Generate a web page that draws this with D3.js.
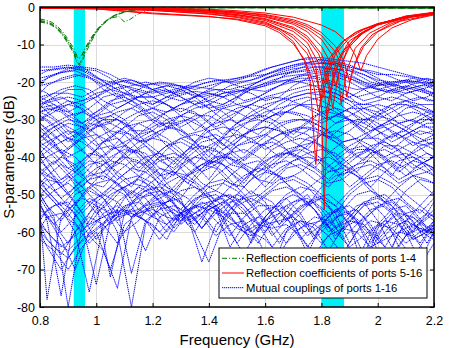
<!DOCTYPE html>
<html>
<head>
<meta charset="utf-8">
<script src="https://cdn.jsdelivr.net/npm/d3@7"></script>
<style>
  body { margin: 0; background: #fff; }
  svg { display: block; font-family: "Liberation Sans", Arial, sans-serif; }
  .grid line { stroke: #dcdcdc; stroke-width: 1; shape-rendering: crispEdges; }
  .axis path { display: none; }
  .axis line { stroke: #000; stroke-width: 1; }
  .axis text { font-size: 12.5px; fill: #000; }
  .coupling { fill: none; stroke: #0000ff; stroke-width: 1; stroke-dasharray: 1.3 0.7; }
  .refl-low { fill: none; stroke: #007a00; stroke-width: 1; stroke-dasharray: 5 2 1 2; }
  .refl-high { fill: none; stroke: #ff0000; stroke-width: 1; }
</style>
</head>
<body>
<svg id="sparam-plot" width="474" height="348"></svg>
<script>

// frequency grids (GHz) for the mutual coupling traces
const freqA = [0.80,0.85,0.90,0.95,1.00,1.05,1.10,1.15,1.20,1.25,1.30,1.35,1.40,1.45,1.50,
               1.55,1.60,1.65,1.70,1.75,1.80,1.85,1.90,1.95,2.00,2.05,2.10,2.15,2.20];
const freqB = [0.80,0.825,0.875,0.925,0.975,1.025,1.075,1.125,1.175,1.225,1.275,1.325,1.375,1.425,1.475,
               1.525,1.575,1.625,1.675,1.725,1.775,1.825,1.875,1.925,1.975,2.025,2.075,2.125,2.175,2.20];

// operating bands (GHz)
const bands = [[0.92, 0.96], [1.80, 1.88]];

// reflection coefficients of ports 1-4 (dB)
const lowFreq = [0.80,0.82,0.84,0.86,0.88,0.90,0.92,0.93,0.94,0.95,0.96,0.98,1.00,1.02,1.04,1.06,1.08,1.10,1.12,1.15,1.20,1.40,1.60,1.80,2.00,2.20];
const reflLow = [
  [-3.6,-3.9,-4.4,-5.4,-7.0,-9.2,-12.0,-14.2,-15.6,-14.5,-12.6,-9.5,-6.8,-4.9,-3.6,-2.6,-1.9,-1.4,-1.0,-0.7,-0.4,-0.2,-0.2,-0.3,-0.3,-0.4],
  [-3.2,-3.5,-4.0,-5.0,-6.6,-8.6,-11.2,-12.8,-13.4,-12.6,-11.0,-8.4,-6.2,-4.6,-3.5,-2.8,-2.5,-4.0,-3.3,-1.8,-0.5,-0.2,-0.2,-0.2,-0.3,-0.3],
  [-3.8,-4.1,-4.6,-5.6,-7.2,-9.4,-11.8,-13.2,-13.8,-12.8,-11.2,-8.8,-6.4,-4.6,-3.3,-2.4,-1.8,-1.3,-1.0,-0.7,-0.4,-0.2,-0.2,-0.2,-0.2,-0.3],
  [-4.0,-4.3,-4.8,-5.8,-7.5,-9.8,-12.4,-14.6,-15.2,-13.8,-11.8,-9.0,-6.6,-4.8,-3.4,-2.4,-1.7,-1.2,-0.9,-0.6,-0.3,-0.2,-0.2,-0.2,-0.3,-0.3]
];

// reflection coefficients of ports 5-16, [GHz, dB]
const reflHigh = [
  [[0.8,-0.3],[1.0,-0.5],[1.2,-1.8],[1.4,-2.6],[1.5,-3.2],[1.6,-4.6],[1.65,-6.2],[1.7,-9.2],[1.74,-14.5],[1.76,-20],[1.78,-42],[1.80,-21],[1.83,-13.5],[1.87,-9.5],[1.92,-6.8],[2.0,-4.6],[2.1,-2.9],[2.2,-1.9]],
  [[0.8,-0.2],[1.0,-0.4],[1.2,-0.9],[1.4,-1.8],[1.5,-2.6],[1.6,-4.0],[1.7,-7.5],[1.75,-11],[1.78,-16],[1.80,-26],[1.81,-54],[1.82,-27],[1.85,-15],[1.9,-9],[1.95,-6.5],[2.0,-4.8],[2.1,-2.8],[2.2,-1.8]],
  [[0.8,-0.3],[1.0,-0.5],[1.2,-1.6],[1.4,-2.5],[1.5,-3.4],[1.6,-5.0],[1.65,-6.8],[1.7,-9.8],[1.74,-14],[1.77,-20],[1.79,-28],[1.81,-20],[1.84,-13],[1.88,-9],[1.93,-6.4],[2.0,-4.4],[2.1,-2.8],[2.2,-1.8]],
  [[0.8,-0.2],[1.0,-0.4],[1.2,-0.9],[1.4,-1.9],[1.5,-2.8],[1.6,-4.3],[1.65,-5.8],[1.7,-8.2],[1.75,-12.5],[1.78,-18],[1.80,-25],[1.82,-19],[1.85,-12.5],[1.9,-8.2],[1.95,-6],[2.0,-4.5],[2.1,-2.6],[2.2,-1.7]],
  [[0.8,-0.2],[1.0,-0.3],[1.2,-0.7],[1.4,-1.5],[1.5,-2.3],[1.6,-3.6],[1.7,-6.5],[1.75,-9.5],[1.79,-15],[1.81,-22],[1.82,-30],[1.84,-20],[1.87,-13],[1.92,-8.2],[2.0,-4.8],[2.1,-2.7],[2.2,-1.7]],
  [[0.8,-0.1],[1.0,-0.3],[1.2,-0.7],[1.4,-1.4],[1.5,-2.1],[1.6,-3.3],[1.7,-5.8],[1.75,-8.5],[1.79,-12.5],[1.81,-16.5],[1.83,-23],[1.85,-17],[1.88,-11.5],[1.93,-7.5],[2.0,-4.6],[2.1,-2.5],[2.2,-1.5]],
  [[0.8,-0.2],[1.0,-0.3],[1.2,-0.6],[1.4,-1.3],[1.5,-2.0],[1.6,-3.1],[1.7,-5.4],[1.75,-7.8],[1.8,-12.5],[1.82,-16.5],[1.84,-27],[1.86,-18],[1.89,-11.5],[1.94,-7.2],[2.0,-4.6],[2.1,-2.5],[2.2,-1.5]],
  [[0.8,-0.1],[1.0,-0.2],[1.2,-0.5],[1.4,-1.1],[1.5,-1.7],[1.6,-2.7],[1.7,-4.6],[1.75,-6.6],[1.8,-10.5],[1.83,-14.5],[1.85,-21],[1.87,-15.5],[1.9,-10.5],[1.95,-6.8],[2.0,-4.6],[2.1,-2.4],[2.2,-1.4]],
  [[0.8,-0.1],[1.0,-0.2],[1.2,-0.5],[1.4,-1.0],[1.5,-1.6],[1.6,-2.5],[1.7,-4.2],[1.75,-5.8],[1.8,-8.6],[1.84,-13],[1.86,-18],[1.87,-26],[1.89,-17],[1.92,-11],[1.97,-7],[2.05,-4.0],[2.12,-2.5],[2.2,-1.5]],
  [[0.8,-0.1],[1.0,-0.2],[1.2,-0.4],[1.4,-0.9],[1.5,-1.4],[1.6,-2.2],[1.7,-3.8],[1.75,-5.2],[1.8,-7.6],[1.85,-12],[1.88,-17.5],[1.89,-24],[1.91,-17],[1.94,-11],[1.98,-7.4],[2.05,-4.4],[2.12,-2.7],[2.2,-1.6]],
  [[0.8,-0.1],[1.0,-0.2],[1.2,-0.4],[1.4,-0.8],[1.5,-1.3],[1.6,-2.0],[1.7,-3.4],[1.75,-4.7],[1.8,-6.8],[1.85,-10.5],[1.88,-14.5],[1.90,-20],[1.92,-15],[1.95,-10.5],[2.0,-6.6],[2.08,-3.8],[2.2,-1.9]],
  [[0.8,-0.1],[1.0,-0.1],[1.2,-0.3],[1.4,-0.6],[1.5,-1.0],[1.6,-1.6],[1.7,-2.7],[1.8,-4.8],[1.85,-6.6],[1.89,-9.2],[1.92,-12.8],[1.94,-17],[1.96,-13],[2.0,-8.6],[2.05,-5.6],[2.12,-3.4],[2.2,-2.1]]
];

// mutual couplings sampled on freqA (dB)
const couplingA = [
  [-16,-16,-15.5,-16,-18.5,-21,-23,-24,-24,-23,-22,-21,-20,-19.5,-19,-18,-16.5,-15.5,-14.5,-13.5,-13.5,-14,-14.5,-15,-16,-17,-18,-19,-20],
  [-17,-16.5,-16,-17,-19,-20,-19,-20,-22,-24,-25,-24,-22,-20,-19,-18.5,-18,-17,-16,-15,-14,-14.5,-15.5,-17,-19,-21,-22,-21,-20],
  [-19,-18,-17,-16.5,-17,-19,-22,-25,-26,-24,-22,-20,-19,-19.5,-21,-22,-21,-19,-17,-15.5,-15,-15,-16,-17,-18,-18,-18.5,-19,-19.5],
  [-20,-18,-16.5,-16,-16.5,-18,-20,-21,-20.5,-20.5,-21,-23,-25,-26,-24,-21,-19,-17.5,-16.5,-16,-16,-17,-19,-21,-22,-21,-20,-20,-21],
  [-24,-23,-23,-24,-22,-20,-21,-23,-26,-24,-23,-22.5,-23,-24,-23,-21,-19,-18,-17.5,-17,-16.5,-16.5,-17,-18,-19.5,-20,-19.5,-20,-22],
  [-26,-25,-24,-25,-24,-21,-19.5,-21,-22,-21,-22,-24,-27,-26,-24,-22,-21,-20,-19,-18,-17.5,-18,-19,-20.5,-22,-23,-22,-21,-21],
  [-25,-27,-28,-26,-24,-22,-21,-22,-23,-22,-24,-26,-25,-23,-22,-23,-25,-24,-21,-19,-18,-18.5,-20,-22,-24,-25,-23,-22,-23],
  [-28,-27,-26,-25,-23,-22,-23,-25,-27,-28,-26,-24,-23,-24,-26,-25,-23,-21,-20,-19.5,-20,-21,-23,-25,-24,-22,-21,-22,-24],
  [-21,-20,-19,-18,-19.5,-22,-25,-24,-22,-21,-21,-22,-21,-20,-20,-19.5,-18,-16.5,-15.5,-15,-15,-15.5,-16.5,-18,-20,-22,-23,-22,-21],
  [-26,-24,-22,-22,-25,-28,-26,-24,-24,-26,-28,-26,-24,-23,-22.5,-22,-22.5,-21,-19,-17.5,-17,-17.5,-18.5,-20,-21,-20,-20,-21.5,-23],
  [-24,-26,-29,-31,-28,-25,-24,-26,-29,-32,-29,-27,-26,-28,-31,-29,-27,-25,-23,-22,-22,-23,-25,-28,-30,-28,-26,-27,-29],
  [-30,-27,-25,-26,-29,-31,-28,-26,-25,-26,-29,-33,-30,-27,-26,-27,-30,-28,-25,-24,-25,-27,-30,-33,-29,-26,-25,-26,-28],
  [-27,-26,-28,-31,-29,-26,-25,-27,-30,-28,-26,-25,-27,-30,-28,-26,-24,-23,-22,-21,-21,-22,-24,-27,-29,-27,-25,-24,-25],
  [-30,-28,-26,-27,-30,-33,-30,-28,-27,-29,-32,-30,-28,-27,-28,-30,-29,-26,-24,-23,-22.5,-23,-25,-26,-25,-24,-25,-27,-28],
  [-33,-31,-29,-28,-30,-35,-32,-29,-28,-30,-34,-36,-32,-29,-27,-26,-27,-29,-27,-25,-24,-24,-26,-29,-32,-30,-27,-26,-26],
  [-28,-30,-34,-32,-29,-28,-30,-35,-33,-30,-29,-30,-33,-37,-33,-30,-28,-27,-26,-26.5,-28,-31,-29,-27,-26,-27,-30,-31,-29],
  [-35,-32,-30,-31,-34,-38,-34,-31,-30,-32,-31,-29,-29,-31,-35,-33,-30,-28,-28,-29,-31,-29,-27,-27,-28,-31,-33,-30,-28],
  [-31,-34,-38,-35,-32,-31,-33,-36,-34,-32,-33,-36,-40,-35,-31,-29,-29,-31,-34,-31,-28,-27,-28,-30,-33,-35,-32,-30,-30],
  [-37,-35,-33,-34,-37,-35,-32,-31,-33,-37,-40,-36,-33,-32,-33,-36,-34,-31,-30,-30,-32,-35,-33,-30,-29,-30,-32,-34,-33],
  [-34,-37,-40,-38,-35,-33,-34,-38,-42,-38,-35,-34,-35,-38,-36,-33,-32,-33,-36,-38,-34,-31,-30,-31,-33,-36,-34,-32,-32],
  [-40,-37,-35,-36,-39,-43,-39,-36,-35,-36,-39,-42,-38,-35,-34,-35,-38,-36,-33,-32,-33,-36,-39,-35,-32,-31,-33,-36,-35],
  [-36,-39,-43,-41,-38,-37,-39,-43,-40,-37,-36,-38,-42,-40,-37,-36,-37,-40,-38,-35,-34,-35,-38,-41,-37,-34,-33,-35,-37],
  [-29,-32,-36,-33,-30,-29,-31,-34,-31,-28,-27,-28,-31,-34,-31,-28,-26,-25,-24,-23,-23.5,-25,-28,-31,-28,-26,-26,-28,-31],
  [-39,-42,-38,-35,-34,-36,-40,-44,-40,-37,-35,-37,-41,-38,-35,-33,-32,-33,-35,-33,-30,-29,-30,-33,-36,-38,-35,-33,-34],
  [-43,-46,-50,-46,-43,-41,-42,-45,-49,-45,-42,-40,-41,-44,-48,-44,-41,-39,-39,-41,-44,-41,-38,-37,-39,-42,-45,-42,-40],
  [-33,-36,-41,-45,-41,-38,-37,-39,-43,-46,-43,-40,-38,-39,-42,-39,-36,-34,-33,-34,-37,-40,-37,-35,-35,-37,-40,-38,-36],
  [-50,-47,-45,-48,-52,-49,-46,-45,-47,-51,-54,-50,-47,-46,-48,-52,-49,-46,-45,-47,-50,-53,-49,-46,-45,-47,-50,-53,-49],
  [-37,-40,-44,-48,-44,-40,-38,-39,-42,-47,-51,-46,-42,-40,-41,-44,-48,-44,-41,-39,-38,-39,-42,-46,-43,-40,-39,-41,-45],
  [-48,-52,-56,-50,-47,-46,-49,-54,-51,-47,-45,-47,-51,-55,-50,-46,-44,-45,-49,-53,-48,-45,-44,-46,-50,-54,-49,-46,-47],
  [-52,-49,-47,-50,-55,-52,-48,-46,-48,-53,-57,-52,-48,-47,-49,-53,-50,-47,-46,-48,-52,-55,-50,-47,-46,-48,-52,-55,-51],
  [-36,-33,-31,-32,-36,-41,-37,-34,-33,-35,-38,-42,-46,-41,-37,-35,-34,-36,-40,-37,-34,-33,-34,-37,-41,-45,-40,-37,-36],
  [-44,-41,-45,-50,-46,-42,-40,-41,-45,-50,-46,-43,-41,-42,-46,-50,-46,-43,-41,-40,-41,-44,-48,-45,-42,-41,-43,-47,-50],
  [-47,-51,-55,-60,-54,-50,-48,-51,-56,-52,-49,-48,-51,-56,-52,-49,-52,-58,-53,-50,-55,-62,-56,-52,-57,-64,-57,-53,-56],
  [-53,-58,-54,-51,-53,-58,-54,-51,-50,-53,-58,-55,-52,-51,-55,-63,-56,-52,-57,-66,-58,-54,-58,-70,-59,-55,-60,-68,-60],
  [-50,-56,-80,-58,-52,-72,-55,-50,-48,-50,-55,-58,-54,-52,-50,-52,-57,-63,-57,-53,-51,-53,-58,-66,-58,-54,-53,-57,-60],
  [-46,-49,-53,-58,-74,-57,-51,-48,-50,-54,-56,-60,-68,-58,-53,-51,-53,-58,-55,-52,-51,-55,-63,-57,-53,-52,-55,-60,-58],
  [-44,-46,-50,-55,-51,-48,-50,-56,-58,-62,-55,-51,-50,-53,-58,-62,-56,-52,-50,-52,-56,-61,-57,-53,-52,-55,-61,-58,-55],
  [-58,-62,-65,-61,-57,-55,-54,-56,-53,-52,-51,-60,-54,-52,-55,-60,-57,-55,-58,-64,-59,-56,-55,-58,-63,-59,-57,-59,-61],
  [-60,-64,-67,-62,-59,-56,-55,-54,-56,-58,-55,-53,-54,-56,-59,-61,-58,-57,-56,-59,-63,-59,-57,-58,-62,-66,-61,-59,-60],
  [-62,-65,-70,-64,-60,-70,-58,-55,-54,-56,-57,-55,-53,-55,-58,-60,-62,-66,-60,-58,-57,-60,-64,-61,-58,-59,-63,-60,-59],
  [-54,-58,-63,-57,-53,-55,-60,-57,-52,-50,-52,-57,-53,-50,-51,-55,-60,-56,-52,-51,-54,-59,-56,-52,-51,-53,-58,-63,-58],
  [-56,-53,-52,-56,-62,-57,-53,-52,-55,-60,-56,-53,-52,-56,-63,-58,-54,-53,-56,-61,-58,-54,-53,-56,-62,-58,-55,-54,-57]
];

// mutual couplings sampled on freqB (dB)
const couplingB = [
  [-18,-17,-16.5,-16,-17.5,-20,-22,-21,-20,-21,-23,-22,-20.5,-19.5,-20,-19,-17.5,-16,-15,-14,-13.8,-14.5,-15.5,-16.5,-17,-18,-19.5,-20,-19,-19.5],
  [-21,-19,-17.5,-17,-18.5,-22,-24,-23,-21,-20,-20.5,-22,-24,-23,-21,-20,-19,-17.5,-16,-15,-14.5,-15,-16,-18,-20,-21,-20,-19,-20,-21],
  [-23,-21,-19,-18,-19,-21,-20,-19.5,-21,-23,-22,-21,-21.5,-22,-22,-21,-20,-18.5,-17.5,-17,-16,-16,-17,-19,-21,-22.5,-22,-20.5,-20,-20.5],
  [-25,-24,-22,-21,-22,-25,-27,-25,-23,-22,-23,-25,-27,-25,-23,-22,-21,-19.5,-18.5,-18,-18.5,-19.5,-21,-22,-21.5,-20.5,-21,-22,-23,-23],
  [-27,-25,-24,-26,-29,-27,-24,-22,-23,-25,-27,-25,-23,-22,-23,-25,-24,-22,-20,-19,-19,-20,-22,-24,-23,-22,-23,-25,-24,-23],
  [-22,-23,-26,-29,-27,-24,-23,-25,-28,-26,-24,-23,-24,-27,-26,-23,-21,-20,-19.5,-20,-21,-23,-25,-23,-21,-20,-21,-23,-25,-25],
  [-28,-27,-28,-31,-33,-30,-28,-27,-29,-32,-30,-28,-29,-32,-30,-27,-25,-24,-24.5,-26,-28,-30,-28,-26,-26,-28,-31,-30,-28,-28],
  [-34,-36,-39,-36,-33,-31,-30,-32,-36,-34,-31,-30,-32,-35,-38,-34,-31,-29,-28,-29,-32,-35,-32,-30,-30,-32,-35,-33,-31,-31],
  [-42,-40,-38,-40,-44,-46,-41,-38,-39,-43,-45,-40,-37,-38,-42,-40,-37,-36,-38,-41,-43,-39,-36,-35,-37,-40,-38,-36,-37,-38],
  [-38,-41,-46,-43,-39,-40,-45,-48,-43,-40,-39,-41,-44,-42,-39,-38,-40,-43,-40,-37,-36,-38,-42,-44,-40,-37,-37,-39,-41,-40],
  [-45,-43,-40,-42,-47,-48,-44,-41,-42,-46,-50,-45,-42,-41,-43,-46,-43,-40,-39,-40,-43,-46,-42,-39,-38,-40,-43,-41,-42,-44],
  [-32,-34,-39,-44,-40,-36,-35,-38,-42,-45,-41,-38,-37,-40,-44,-47,-42,-38,-36,-35,-36,-39,-43,-40,-37,-36,-38,-42,-44,-43],
  [-41,-43,-48,-45,-42,-41,-44,-47,-44,-41,-40,-43,-47,-49,-45,-42,-41,-44,-46,-44,-41,-40,-42,-45,-48,-44,-41,-40,-42,-43],
  [-29,-30,-33,-37,-40,-36,-33,-34,-37,-41,-43,-39,-36,-35,-38,-41,-38,-35,-33,-32,-33,-35,-37,-40,-38,-35,-34,-36,-39,-40],
  [-47,-45,-42,-44,-47,-50,-46,-43,-44,-47,-49,-45,-42,-43,-47,-48,-44,-42,-41,-43,-46,-48,-44,-42,-41,-43,-46,-44,-42,-43],
  [-39,-37,-34,-36,-40,-44,-42,-39,-37,-40,-44,-47,-43,-40,-39,-42,-44,-41,-38,-37,-39,-42,-45,-42,-39,-38,-40,-43,-41,-40],
  [-44,-46,-51,-48,-45,-44,-47,-50,-46,-43,-44,-47,-49,-45,-42,-43,-46,-47,-43,-42,-44,-47,-46,-43,-42,-44,-47,-45,-44,-45],
  [-26,-28,-31,-35,-32,-30,-30,-33,-33,-31,-31,-34,-33,-31,-30,-32,-34,-31,-28,-26,-26,-27,-29,-31,-33,-31,-29,-28,-29,-30],
  [-35,-33,-31,-33,-37,-40,-37,-35,-36,-39,-42,-38,-35,-34,-36,-39,-36,-33,-31,-30,-31,-33,-36,-35,-33,-32,-34,-37,-35,-34],
  [-46,-49,-53,-49,-46,-45,-47,-51,-48,-45,-44,-45,-48,-52,-48,-45,-43,-44,-47,-50,-47,-44,-43,-45,-49,-52,-48,-45,-46,-47],
  [-31,-33,-36,-34,-31,-32,-35,-39,-36,-33,-32,-34,-38,-36,-33,-31,-30,-31,-34,-32,-29,-28,-29,-32,-35,-33,-31,-30,-32,-33],
  [-40,-43,-47,-44,-41,-42,-46,-43,-40,-39,-41,-45,-43,-40,-40,-43,-46,-42,-39,-38,-40,-44,-41,-38,-38,-41,-44,-41,-39,-40],
  [-50,-53,-57,-52,-49,-51,-55,-52,-49,-48,-50,-54,-59,-54,-51,-54,-60,-55,-51,-55,-61,-56,-53,-57,-65,-58,-54,-57,-63,-60],
  [-59,-56,-55,-58,-63,-59,-56,-55,-57,-60,-56,-54,-56,-61,-58,-57,-62,-70,-60,-57,-59,-65,-59,-57,-61,-69,-60,-58,-61,-62],
  [-55,-78,-56,-50,-48,-51,-57,-54,-50,-49,-52,-58,-55,-51,-50,-53,-58,-54,-50,-48,-49,-53,-60,-55,-51,-50,-53,-59,-56,-54],
  [-52,-57,-77,-55,-51,-53,-60,-80,-58,-53,-51,-54,-59,-55,-52,-51,-55,-61,-57,-53,-52,-55,-62,-58,-54,-53,-56,-62,-60,-57],
  [-48,-50,-54,-60,-76,-58,-52,-49,-51,-56,-60,-55,-51,-50,-53,-58,-63,-57,-53,-51,-54,-60,-57,-53,-52,-56,-64,-58,-55,-56],
  [-58,-62,-66,-60,-56,-58,-63,-57,-65,-56,-54,-56,-68,-58,-55,-55,-58,-64,-59,-57,-58,-61,-66,-60,-57,-58,-62,-67,-61,-59],
  [-53,-56,-62,-70,-60,-55,-53,-56,-54,-53,-59,-55,-52,-54,-60,-66,-59,-55,-53,-56,-62,-58,-55,-54,-58,-64,-58,-56,-59,-61],
  [-57,-60,-64,-61,-58,-56,-54,-71,-57,-54,-53,-55,-59,-54,-64,-58,-56,-58,-63,-59,-56,-57,-61,-68,-60,-57,-58,-62,-60,-58],
  [-48,-46,-47,-52,-58,-53,-49,-47,-48,-52,-57,-53,-50,-49,-51,-55,-52,-49,-48,-50,-54,-59,-54,-50,-49,-51,-55,-60,-55,-52],
  [-60,-64,-70,-64,-61,-65,-75,-56,-53,-52,-54,-57,-55,-53,-56,-60,-58,-59,-58,-61,-66,-61,-59,-60,-64,-62,-60,-61,-66,-63],
  [-51,-54,-60,-56,-52,-50,-52,-56,-53,-50,-49,-51,-55,-60,-54,-51,-50,-52,-57,-54,-51,-50,-53,-58,-55,-52,-51,-54,-59,-57],
  [-57,-54,-52,-55,-61,-58,-55,-54,-57,-62,-57,-54,-53,-57,-61,-56,-53,-53,-56,-62,-58,-55,-54,-57,-63,-58,-55,-56,-60,-59]
];

const xTicks = [0.8, 1, 1.2, 1.4, 1.6, 1.8, 2, 2.2];
const yTicks = [0, -10, -20, -30, -40, -50, -60, -70, -80];
const legendLabels = [
  "Reflection coefficients of ports 1-4",
  "Reflection coefficients of ports 5-16",
  "Mutual couplings of ports 1-16"
];

function drawPlot(svgId) {
  const svg = d3.select("#" + svgId);
  const box = {left: 40, right: 434, top: 7, bottom: 307};

  const x = d3.scaleLinear().domain([0.8, 2.2]).range([box.left, box.right]);
  const y = d3.scaleLinear().domain([-80, 0]).range([box.bottom, box.top]);

  svg.append("defs").append("clipPath").attr("id", "plot-clip")
    .append("rect")
    .attr("x", box.left).attr("y", box.top)
    .attr("width", box.right - box.left).attr("height", box.bottom - box.top);

  // grid
  const grid = svg.append("g").attr("class", "grid");
  grid.selectAll(".gx").data(xTicks).enter().append("line")
    .attr("x1", d => Math.round(x(d)) + 0.5).attr("x2", d => Math.round(x(d)) + 0.5)
    .attr("y1", box.top).attr("y2", box.bottom);
  grid.selectAll(".gy").data(yTicks).enter().append("line")
    .attr("y1", d => Math.round(y(d)) + 0.5).attr("y2", d => Math.round(y(d)) + 0.5)
    .attr("x1", box.left).attr("x2", box.right);

  const plot = svg.append("g").attr("clip-path", "url(#plot-clip)");

  // highlighted bands
  plot.selectAll(".band").data(bands).enter().append("rect")
    .attr("x", d => x(d[0])).attr("width", d => x(d[1]) - x(d[0]))
    .attr("y", box.top).attr("height", box.bottom - box.top)
    .style("fill", "#00f0f8");

  const line = d3.line().x(d => x(d[0])).y(d => y(d[1]));

  // mutual couplings
  plot.selectAll(".cplA").data(couplingA).enter().append("path")
    .attr("class", "coupling")
    .attr("d", v => line(d3.zip(freqA, v)));
  plot.selectAll(".cplB").data(couplingB).enter().append("path")
    .attr("class", "coupling")
    .attr("d", v => line(d3.zip(freqB, v)));

  // reflection coefficients
  plot.selectAll(".rl").data(reflLow).enter().append("path")
    .attr("class", "refl-low")
    .attr("d", v => line(d3.zip(lowFreq, v)));
  plot.selectAll(".rh").data(reflHigh).enter().append("path")
    .attr("class", "refl-high")
    .attr("d", line);

  // axes, ticks pointing inward like a matlab box
  svg.append("g").attr("class", "axis")
    .attr("transform", "translate(0," + box.bottom + ")")
    .call(d3.axisBottom(x).tickValues(xTicks).tickFormat(d3.format("~g"))
      .tickSize(-4).tickSizeOuter(0).tickPadding(9.5));
  svg.append("g").attr("class", "axis")
    .attr("transform", "translate(0," + box.top + ")")
    .call(d3.axisTop(x).tickValues(xTicks).tickFormat("").tickSize(-4).tickSizeOuter(0));
  svg.append("g").attr("class", "axis")
    .attr("transform", "translate(" + box.left + ",0)")
    .call(d3.axisLeft(y).tickValues(yTicks).tickFormat(d3.format("d"))
      .tickSize(-4).tickSizeOuter(0).tickPadding(5));
  svg.append("g").attr("class", "axis")
    .attr("transform", "translate(" + box.right + ",0)")
    .call(d3.axisRight(y).tickValues(yTicks).tickFormat("").tickSize(-4).tickSizeOuter(0));

  svg.selectAll(".axis text").text(function() {
    return d3.select(this).text().replace("\u2212", "-");
  });

  svg.append("rect")
    .attr("x", box.left).attr("y", box.top)
    .attr("width", box.right - box.left).attr("height", box.bottom - box.top)
    .style("fill", "none").style("stroke", "#000").style("stroke-width", 1.5);

  // axis titles
  svg.append("text")
    .attr("x", (box.left + box.right) / 2).attr("y", 345)
    .attr("text-anchor", "middle")
    .style("font-size", "15px")
    .text("Frequency (GHz)");
  svg.append("text")
    .attr("transform", "translate(9," + (box.top + box.bottom) / 2 + ") rotate(-90)")
    .attr("text-anchor", "middle")
    .attr("dy", "0.35em")
    .style("font-size", "15px")
    .text("S-parameters (dB)");

  // legend
  const legend = svg.append("g").attr("transform", "translate(219,248)");
  legend.append("rect")
    .attr("width", 208).attr("height", 50)
    .style("fill", "#fff").style("stroke", "#000").style("stroke-width", 1);
  const styles = ["refl-low", "refl-high", "coupling"];
  const rows = legend.selectAll(".row").data(legendLabels).enter().append("g")
    .attr("transform", (d, i) => "translate(0," + (10.3 + i * 14.7) + ")");
  rows.append("line")
    .attr("class", (d, i) => styles[i])
    .attr("x1", 3).attr("x2", 25).attr("y1", 0).attr("y2", 0);
  rows.append("text")
    .attr("x", 27).attr("dy", "0.35em")
    .style("font-size", "11.3px")
    .text(d => d);
}

function whenDocumentLoaded(action) {
  if (document.readyState === "loading") {
    document.addEventListener("DOMContentLoaded", action);
  } else {
    action();
  }
}

whenDocumentLoaded(() => drawPlot("sparam-plot"));
</script>
</body>
</html>
